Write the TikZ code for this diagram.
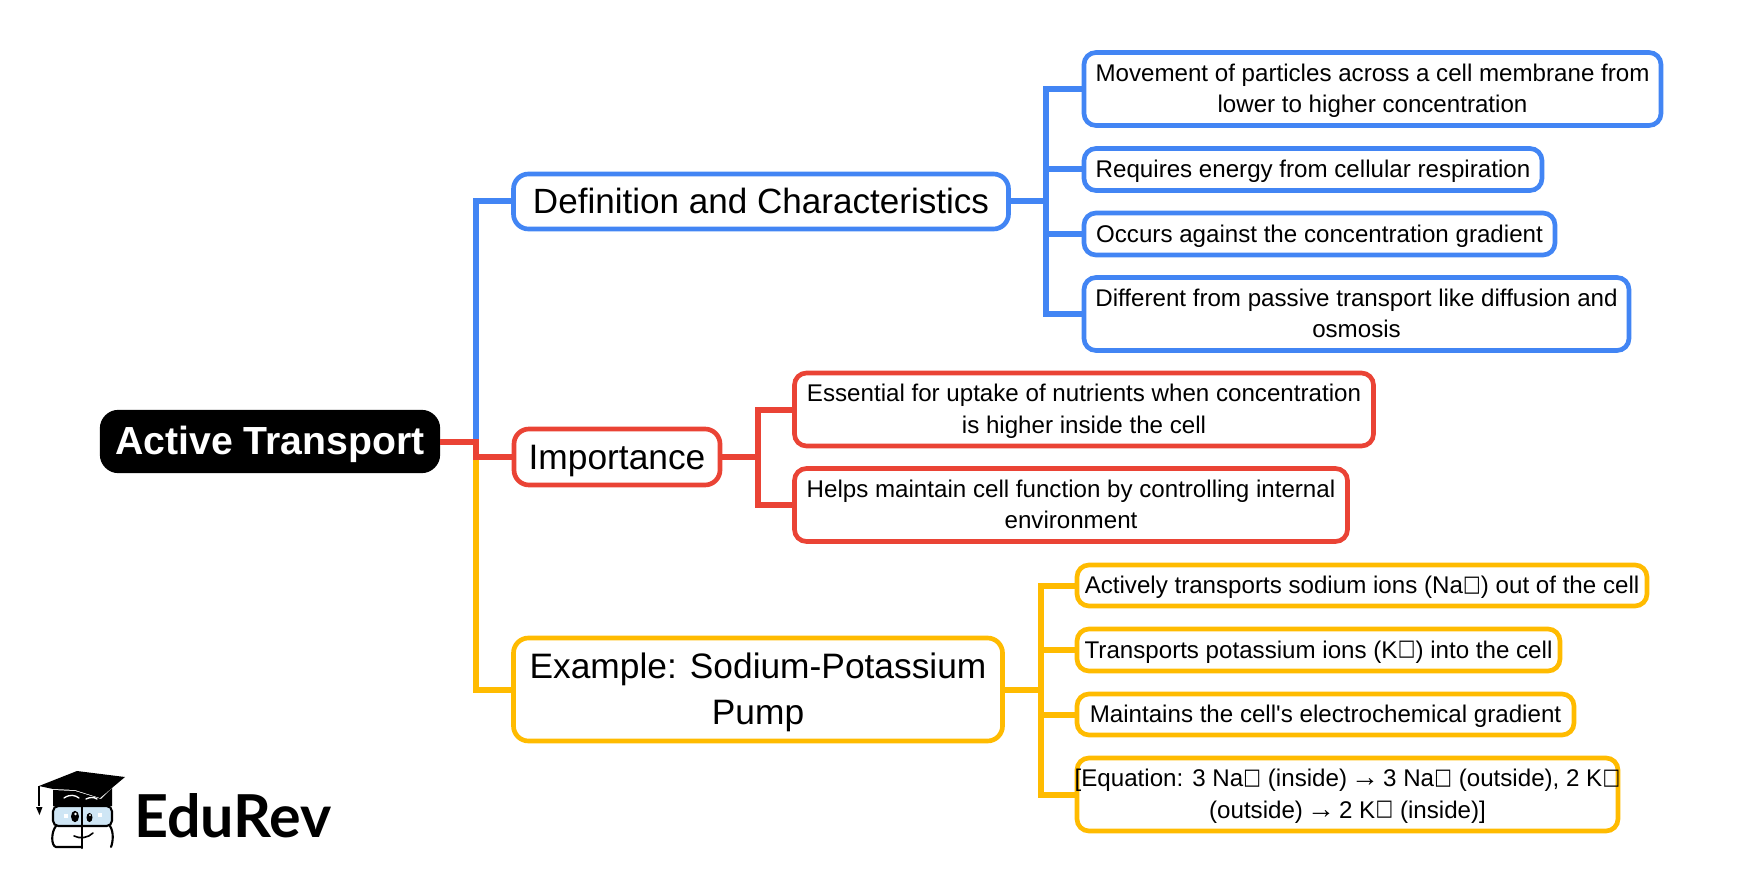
\documentclass[tikz,border=0pt]{standalone}
\usepackage{fontspec}
\setmainfont{Liberation Sans}[Ligatures=TeXOff]
\newfontfamily\tofufont{DejaVu Sans}
\newfontfamily\logofont{Lato}
\definecolor{cblue}{HTML}{4285F4}
\definecolor{cred}{HTML}{EA4335}
\definecolor{cyel}{HTML}{FFBB00}
\definecolor{cglass}{HTML}{CFE6F5}
\newcommand{\tofu}{\makebox[13.5pt]{\raisebox{2pt}{\scalebox{1}[1.2]{\tofufont\fontsize{14pt}{14pt}\selectfont\char"25A1}}}}
\newcommand{\arrowch}{\kern-2pt{\fontsize{21pt}{21pt}\selectfont →}\kern-2pt}
\newcommand{\linefill}{\rule[-0.25em]{0pt}{1.18em}}
\newcommand{\bx}[7]{\node[#1,minimum width=#5*0.75pt,minimum height=#6*0.75pt] (#2) at (#3,#4) {\linefill#7\linefill};}
\tikzset{
 x=0.75pt,y=-0.75pt,
 base/.style={draw,rectangle,align=center,inner sep=0pt,fill=white,text=black},
 lvlzero/.style={base,fill=black,draw=black,rounded corners=18*0.75pt,line width=1pt,text=white,font=\fontsize{29.4pt}{34pt}\selectfont\bfseries},
 lvlone/.style={base,rounded corners=15*0.75pt,line width=3.5pt,font=\fontsize{26.5pt}{35pt}\selectfont},
 leaf/.style={base,rounded corners=12*0.75pt,line width=3.5pt,font=\fontsize{18.1pt}{23.6pt}\selectfont},
 bl/.style={draw=cblue},
 rd/.style={draw=cred},
 ye/.style={draw=cyel},
 conn/.style={line width=4.5pt},
 logoline/.style={draw=black,line width=1.6pt,line cap=round},
}
\begin{document}
\begin{tikzpicture}
\useasboundingbox (0,0) rectangle (1764,884);
% nodes
\bx{lvlzero}{root}{270}{441.5}{339}{62}{Active Transport}
\bx{lvlone,bl}{def}{761}{201.5}{495}{55}{\fontsize{26.3pt}{35pt}\selectfont Definition and Characteristics}
\bx{lvlone,rd}{imp}{617}{457}{206}{56}{Importance}
\bx{lvlone,ye}{exa}{758}{689.5}{489}{103}{Example: Sodium-Potassium\\Pump}
\bx{leaf,bl}{la}{1372.5}{89}{577}{73}{Movement of particles across a cell membrane from\\lower to higher concentration}
\bx{leaf,bl}{lb}{1313}{169.5}{458}{42}{Requires energy from cellular respiration}
\bx{leaf,bl}{lc}{1319.5}{234}{471}{42}{Occurs against the concentration gradient}
\bx{leaf,bl}{ld}{1356.5}{314}{545}{73}{Different from passive transport like diffusion and\\osmosis}
\bx{leaf,rd}{ra}{1084}{409.5}{579}{73}{Essential for uptake of nutrients when concentration\\is higher inside the cell}
\bx{leaf,rd}{rb}{1071}{505}{553}{73}{Helps maintain cell function by controlling internal\\environment}
\bx{leaf,ye}{ya}{1362}{585.5}{570}{41}{Actively transports sodium ions (Na\tofu) out of the cell}
\bx{leaf,ye}{yb}{1318.5}{650}{483}{42}{Transports potassium ions (K\tofu) into the cell}
\bx{leaf,ye}{yc}{1325.5}{714.5}{497}{41}{Maintains the cell's electrochemical gradient}
\bx{leaf,ye}{yd}{1347.5}{794.5}{541}{73}{\makebox[400pt]{[Equation: 3 Na\tofu{} (inside) \arrowch{} 3 Na\tofu{} (outside), 2 K\tofu}\\(outside) \arrowch{} 2 K\tofu{} (inside)]}
% junctions
\coordinate (tm) at (476,441.5);
\coordinate (jb) at (1045.5,201.5);
\coordinate (jr) at (757.5,457);
\coordinate (jy) at (1041,689.5);
% connectors
\draw[conn,cblue] (tm) |- (def.west);
\draw[conn,cyel] (tm) |- (exa.west);
\draw[conn,cred] (root.east) -- (tm) |- (imp.west);
\draw[conn,cblue] (def.east) -- (jb);
\draw[conn,cblue] (la.west) -| (jb);
\draw[conn,cblue] (ld.west) -| (jb);
\draw[conn,cblue] (jb) |- (lb.west);
\draw[conn,cblue] (jb) |- (lc.west);
\draw[conn,cred] (imp.east) -- (jr);
\draw[conn,cred] (ra.west) -| (jr);
\draw[conn,cred] (rb.west) -| (jr);
\draw[conn,cyel] (exa.east) -- (jy);
\draw[conn,cyel] (ya.west) -| (jy);
\draw[conn,cyel] (yd.west) -| (jy);
\draw[conn,cyel] (jy) |- (yb.west);
\draw[conn,cyel] (jy) |- (yc.west);
% logo
\fill[black] (39,786) -- (77,771) -- (125,777) -- (100,798) -- (75,790) -- (53,789) -- cycle;
\fill[black] (53,790) -- (75,791) -- (101,799) -- (112,788) -- (112,806) -- (53,806) -- cycle;
\draw[line width=1pt,black] (39,786) -- (39,806);
\fill[black] (36,807) -- (42.5,807) -- (39.5,815) -- cycle;
\draw[logoline,fill=cglass,rounded corners=4] (53,806) rectangle (112,826);
\draw[logoline,white,line width=1pt] (64,798) .. controls (70,794) and (75,795) .. (79,798);
\draw[logoline,white,line width=1pt] (86,799) .. controls (90,797) and (94,797) .. (97,799);
\draw[logoline] (82,804) -- (82,848);
\draw[logoline] (56,826) .. controls (51,832) and (51,846) .. (56,847) -- (82,847);
\draw[logoline] (110,826) .. controls (114,832) and (113,842) .. (111,847);
\draw[logoline,line width=1.2pt] (74,836) .. controls (80,839) and (88,838) .. (93,833);
\fill[black] (75,816.5) ellipse (4 and 5.7);
\fill[black] (89.5,817.5) ellipse (3 and 4.6);
\fill[white] (75.5,814) circle (1.3);
\fill[white] (90,815) circle (1);
\fill[white] (63.5,813.5) rectangle (67.5,817.5);
\fill[white] (98,813) rectangle (102,817);
\node[inner sep=0pt,anchor=base west,font=\logofont\bfseries\fontsize{44.4pt}{44.4pt}\selectfont] (logo) at (134,837) {EduRev};
\end{tikzpicture}
\end{document}
